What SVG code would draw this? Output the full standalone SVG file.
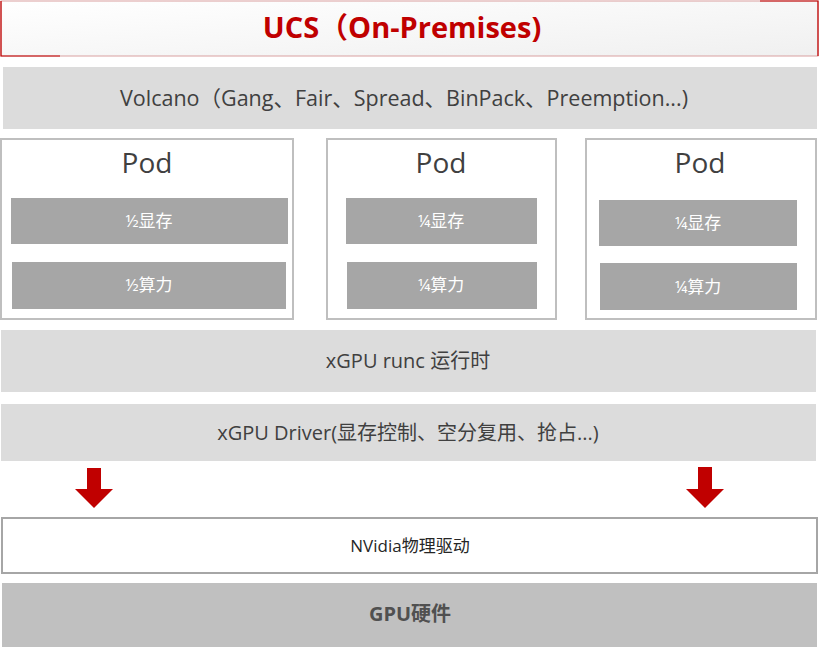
<svg xmlns="http://www.w3.org/2000/svg" width="820" height="649" viewBox="0 0 820 649">
<defs>
<linearGradient id="tg" x1="0" y1="0" x2="1" y2="1"><stop offset="0" stop-color="#ffffff"/><stop offset="1" stop-color="#f0f0f0"/></linearGradient>
<style>
text{font-family:"Open Sans","Noto Sans CJK SC",sans-serif;text-anchor:middle;fill:#404040}
.band{fill:#dcdcdc}
.pod{fill:#fff;stroke:#bfbfbf;stroke-width:2}
.res{fill:#a6a6a6}
.rt{fill:#fff;font-size:17px}
.pt{font-size:28px}
.arr{fill:#c00000}
</style>
</defs>
<g id="title"><rect x="1" y="1" width="817" height="55" fill="url(#tg)" stroke="#d9a0a0" stroke-width="1"/><path d="M1 1V56H60" fill="none" stroke="#c00000" stroke-width="1.2"/><path d="M760 1H818V56" fill="none" stroke="#c00000" stroke-width="1.2"/><text x="402" y="38" font-size="29" font-weight="bold" style="fill:#c00000">UCS（On-Premises)</text></g>
<g id="volcano"><rect class="band" x="3" y="67" width="814" height="62" fill="#e0e0e0"/><text x="404" y="106" font-size="21.5">Volcano（Gang、Fair、Spread、BinPack、Preemption...)</text></g>
<g id="pod1"><rect class="pod" x="1" y="139" width="292" height="180"/><text class="pt" x="147" y="173">Pod</text><rect class="res" x="11" y="198" width="277" height="46"/><text class="rt" x="149" y="227">½显存</text><rect class="res" x="12" y="262" width="274" height="47"/><text class="rt" x="149" y="291">½算力</text></g>
<g id="pod2"><rect class="pod" x="327" y="139" width="229" height="180"/><text class="pt" x="441" y="173">Pod</text><rect class="res" x="346" y="198" width="191" height="46"/><text class="rt" x="441" y="227">¼显存</text><rect class="res" x="347" y="262" width="190" height="47"/><text class="rt" x="441" y="291">¼算力</text></g>
<g id="pod3"><rect class="pod" x="586" y="139" width="230" height="180"/><text class="pt" x="700" y="173">Pod</text><rect class="res" x="599" y="200" width="198" height="46"/><text class="rt" x="698" y="229">¼显存</text><rect class="res" x="600" y="263" width="197" height="47"/><text class="rt" x="698" y="293">¼算力</text></g>
<g id="runc"><rect class="band" x="1" y="330" width="815" height="62"/><text x="408" y="368" font-size="20">xGPU runc 运行时</text></g>
<g id="driver"><rect class="band" x="1" y="404" width="815" height="57"/><text x="408" y="440" font-size="20">xGPU Driver(显存控制、空分复用、抢占...)</text></g>
<g id="connectors"><polygon class="arr" points="87,468 101,468 101,489 113,489 94,508 75,489 87,489"/><polygon class="arr" points="698,467 712,467 712,489 724,489 705,508 686,489 698,489"/></g>
<g id="nvidia"><rect x="2" y="518" width="815" height="55" fill="#fff" stroke="#a6a6a6" stroke-width="2"/><text x="410" y="552" font-size="17" style="fill:#262626">NVidia物理驱动</text></g>
<g id="gpu"><rect x="2" y="583" width="815" height="64" fill="#c0c0c0"/><text x="410" y="621" font-size="20" font-weight="bold" style="fill:#505050">GPU硬件</text></g>
</svg>
